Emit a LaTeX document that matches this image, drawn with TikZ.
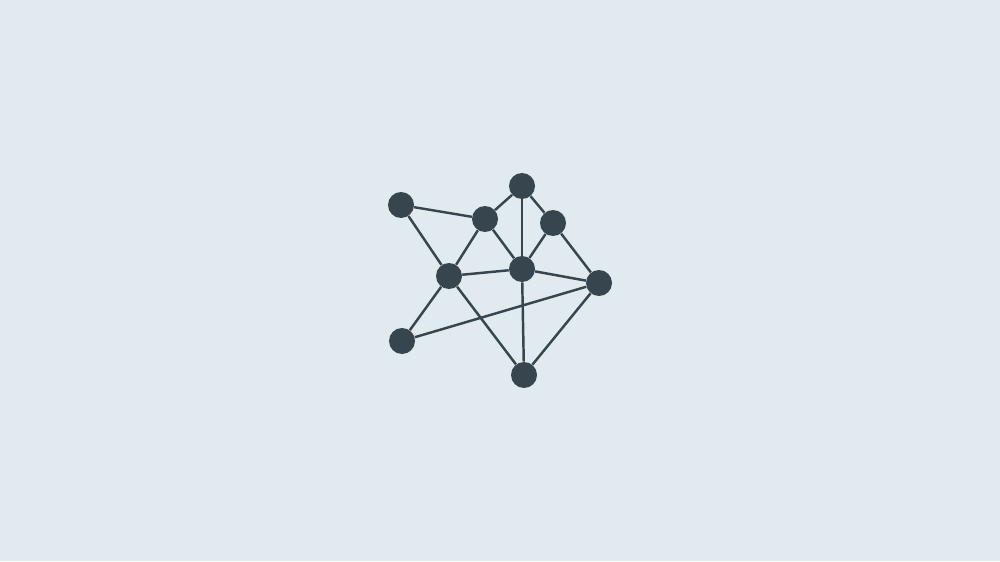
\documentclass[tikz,border=0pt]{standalone}
\usepackage{tikz}
\definecolor{bgblue}{RGB}{225,234,238}
\definecolor{slate}{RGB}{55,70,78}
\tikzset{dot/.style={circle,fill=slate,inner sep=0pt,minimum size=0.52cm},
         link/.style={draw=slate,line width=1.4pt}}

\begin{document}
\begin{tikzpicture}
% background
\fill[bgblue] (0,0) rectangle (20,11.22);
\useasboundingbox (0,0) rectangle (20,11.22);
% dots
\node[dot] (nw) at (8.02,7.12) {};
\node[dot] (mid) at (9.70,6.84) {};
\node[dot] (top) at (10.44,7.50) {};
\node[dot] (ne) at (11.06,6.76) {};
\node[dot] (west) at (8.98,5.70) {};
\node[dot] (hub) at (10.44,5.84) {};
\node[dot] (east) at (11.98,5.56) {};
\node[dot] (sw) at (8.04,4.40) {};
\node[dot] (south) at (10.48,3.72) {};
% upper links
\draw[link] (nw) -- (mid);
\draw[link] (nw) -- (west);
\draw[link] (mid) -- (top);
\draw[link] (mid) -- (west);
\draw[link] (mid) -- (hub);
\draw[link] (top) -- (hub);
\draw[link] (top) -- (ne);
\draw[link] (ne) -- (hub);
\draw[link] (ne) -- (east);
% middle links
\draw[link] (west) -- (hub);
\draw[link] (hub) -- (east);
% lower links
\draw[link] (west) -- (sw);
\draw[link] (west) -- (south);
\draw[link] (sw) -- (east);
\draw[link] (hub) -- (south);
\draw[link] (east) -- (south);
\end{tikzpicture}
\end{document}
